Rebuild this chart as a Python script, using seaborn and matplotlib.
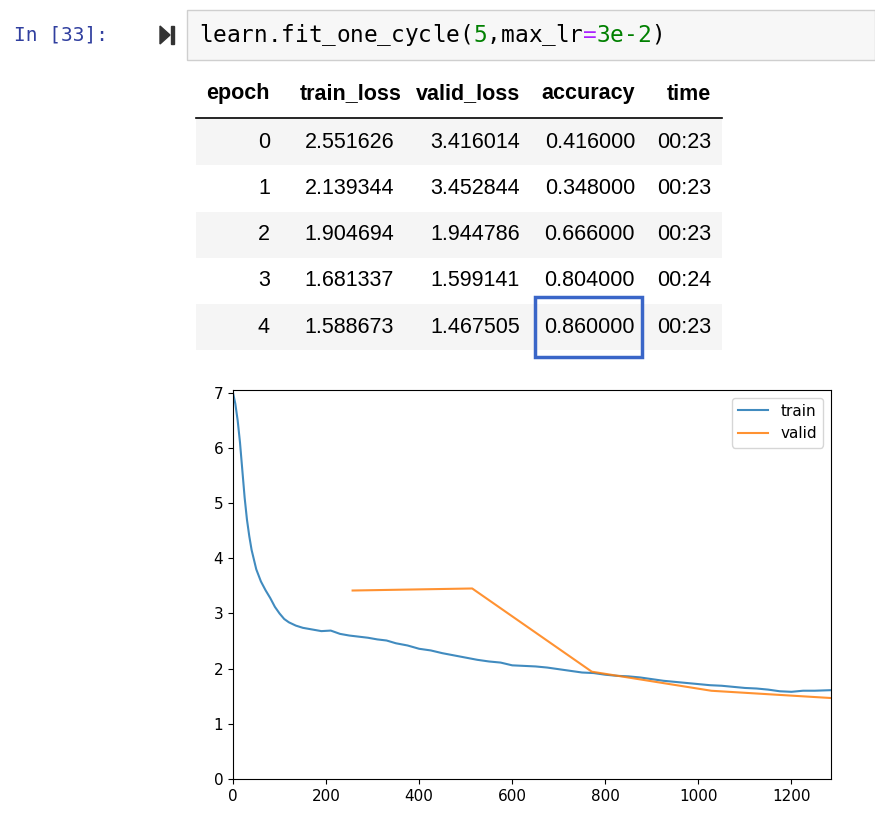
import matplotlib
matplotlib.use("Agg")
import matplotlib.pyplot as plt
import seaborn as sns
from matplotlib.patches import Rectangle, Polygon

# ---- data ----
header = ["epoch", "train_loss", "valid_loss", "accuracy", "time"]
epochs = ["0", "1", "2", "3", "4"]
train_loss = ["2.551626", "2.139344", "1.904694", "1.681337", "1.588673"]
valid_loss = ["3.416014", "3.452844", "1.944786", "1.599141", "1.467505"]
accuracy = ["0.416000", "0.348000", "0.666000", "0.804000", "0.860000"]
times = ["00:23", "00:23", "00:23", "00:24", "00:23"]

train_x = [0, 5, 10, 15, 20, 25, 30, 35, 40, 50, 60, 70, 80, 90, 100, 110, 120, 135, 150, 170,
           190, 210, 230, 250, 270, 290, 310, 330, 350, 375, 400, 425, 450, 475, 500, 525, 550,
           575, 600, 625, 650, 675, 700, 725, 750, 775, 800, 825, 850, 875, 900, 925, 950, 975,
           1000, 1025, 1050, 1075, 1100, 1125, 1150, 1175, 1200, 1225, 1250, 1285]
train_y = [7.0, 6.8, 6.5, 6.1, 5.6, 5.1, 4.7, 4.4, 4.15, 3.8, 3.58, 3.42, 3.28, 3.12, 3.0, 2.9,
           2.84, 2.78, 2.74, 2.71, 2.68, 2.69, 2.63, 2.6, 2.58, 2.56, 2.53, 2.51, 2.46, 2.42,
           2.36, 2.33, 2.28, 2.24, 2.2, 2.16, 2.13, 2.11, 2.06, 2.05, 2.04, 2.02, 1.99, 1.96,
           1.93, 1.92, 1.89, 1.87, 1.86, 1.84, 1.81, 1.78, 1.76, 1.74, 1.72, 1.7, 1.69, 1.67,
           1.65, 1.64, 1.62, 1.59, 1.58, 1.6, 1.6, 1.61]
valid_x = [257, 514, 771, 1028, 1285]
valid_y = [float(v) for v in valid_loss]

W, H = 875, 830
fig = plt.figure(figsize=(W / 100, H / 100), dpi=100)

def fx(px):
    return px / W

def fy(py):
    return 1 - py / H

# ---- input prompt & code cell ----
fig.text(fx(14), fy(35), "In [33]:", color="#303f9f", fontsize=14,
         family="DejaVu Sans Mono", va="center", ha="left")
fig.patches.append(Polygon([[fx(160), fy(26)], [fx(160), fy(44)], [fx(170), fy(35)]],
                           closed=True, color="#333333", transform=fig.transFigure))
fig.patches.append(Rectangle((fx(171), fy(44)), fx(3), fy(26) - fy(44), color="#333333",
                             transform=fig.transFigure))
fig.patches.append(Rectangle((fx(187), fy(60)), fx(875 - 187), fy(10) - fy(60),
                             facecolor="#f7f7f7", edgecolor="#cfcfcf", lw=1,
                             transform=fig.transFigure))
code = "learn.fit_one_cycle(5,max_lr=3e-2)"
colors = ["#000000"] * len(code)
colors[20] = "#008000"
colors[28] = "#aa22ff"
for i in range(29, 33):
    colors[i] = "#008000"
cw = 13.7
for i, ch in enumerate(code):
    fig.text(fx(199 + i * cw), fy(35), ch, color=colors[i], fontsize=16.4,
             family="DejaVu Sans Mono", va="center", ha="left")

# ---- table ----
col_right = [270, 402, 520, 635, 711]
val_right = [270, 394, 520, 635, 711]
for h, xr in zip(header, col_right):
    fig.text(fx(xr), fy(94), h, fontsize=15.5, fontweight="bold", family="Liberation Sans",
             ha="right", va="center")
fig.lines.append(plt.Line2D([fx(196), fx(722)], [fy(118), fy(118)], color="black", lw=1.2,
                            transform=fig.transFigure))
rows = list(zip(epochs, train_loss, valid_loss, accuracy, times))
for r, row in enumerate(rows):
    yc = 142 + r * 46.3
    if r % 2 == 0:
        fig.patches.append(Rectangle((fx(196), fy(yc + 23)), fx(722 - 196), fy(yc - 23) - fy(yc + 23),
                                     facecolor="#f5f5f5", edgecolor="none",
                                     transform=fig.transFigure, zorder=0))
    for v, xr in zip(row, val_right):
        fig.text(fx(xr), fy(yc), v, fontsize=15.5, family="Liberation Sans", ha="right", va="center")
fig.patches.append(Rectangle((fx(535), fy(357)), fx(642 - 535), fy(297) - fy(357),
                             facecolor="none", edgecolor="#3a66c8", lw=2.5,
                             transform=fig.transFigure, zorder=5))

# ---- plot ----
ax = fig.add_axes([fx(233), fy(779), fx(831 - 233), fy(390) - fy(779)])
sns.lineplot(x=train_x, y=train_y, ax=ax, label="train", color="#1f77b4", lw=1.5, alpha=0.85)
sns.lineplot(x=valid_x, y=valid_y, ax=ax, label="valid", color="#ff7f0e", lw=1.5, alpha=0.85)
ax.set_xlim(0, 1285)
ax.set_ylim(0, 7.05)
ax.set_xticks([0, 200, 400, 600, 800, 1000, 1200])
ax.set_yticks(range(0, 8))
ax.tick_params(labelsize=11)
ax.legend(loc="upper right", fontsize=11)

fig.savefig("out.png", dpi=100)
